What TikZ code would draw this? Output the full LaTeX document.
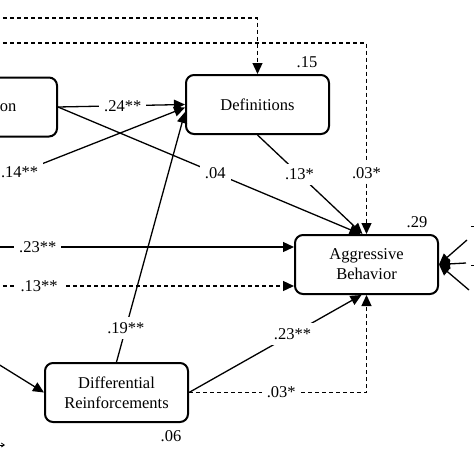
\documentclass[tikz,border=0pt]{standalone}
\usepackage{fontspec}
\setmainfont{Liberation Serif}
\usetikzlibrary{positioning,arrows.meta}

\begin{document}
\begin{tikzpicture}[x=1pt, y=-1pt, font=\fontsize{16.5}{20}\selectfont,
          box/.style={draw, line width=2pt, rounded corners=8pt, minimum width=143pt,
                      minimum height=59pt, align=center},
          arr/.style={line width=1.3pt, -{Triangle[length=11pt,width=10pt]}},
          darr/.style={arr, dash pattern=on 4pt off 3pt},
          coef/.style={fill=white, inner sep=5pt}]
        \useasboundingbox (0,0) rectangle (474,474);
        \clip (0,0) rectangle (474,474);
        % boxes
        \node[box] (imit)  at (-14.5,107)  {};
        \node      (imitx) at (8,108)      {on};
        \node[box] (defs)  at (257.5,104.5) {Definitions};
        \node[box] (aggr)  at (366.5,264.5) {Aggressive\\Behavior};
        \node[box] (reinf) at (116.5,392.5) {Differential\\Reinforcements};
        \node (r15) at (307,62)  {.15};
        \node (r29) at (417,222) {.29};
        \node (r06) at (171,436) {.06};
        % sources outside the frame
        \coordinate (t1)  at (-60,18);
        \coordinate (t2)  at (-60,43);
        \coordinate (s14) at (-60,204);
        \coordinate (s23) at (-60,247);
        \coordinate (s13) at (-60,286);
        \coordinate (sr)  at (-60,328);
        \coordinate (bl)  at (-20,445);
        \coordinate (e1)  at (467,240);
        \coordinate (e2)  at (466,263);
        \coordinate (e3)  at (469,290);
        % paths into Definitions
        \draw[darr] (t1) -| (defs.north);
        \draw[arr] (imit.east) -- node[coef, pos=0.51]{.24**} (defs.west);
        \draw[arr] (s14) -- node[coef, pos=0.325]{.14**} ([yshift=-3pt]defs.west);
        \draw[arr] (reinf.north) -- node[coef, pos=0.136]{.19**} ([yshift=-7.5pt]defs.west);
        % paths into Aggressive Behavior
        \draw[darr] (t2) -| node[coef, pos=0.84]{.03*} (aggr.north);
        \draw[arr] (imit.east) -- node[coef, pos=0.52]{.04} ([xshift=-6pt]aggr.north);
        \draw[arr] (defs.south) -- node[coef, pos=0.4]{.13*} ([xshift=-4pt]aggr.north);
        \draw[arr] (s23) -- node[coef, pos=0.276]{.23**} (s23 -| aggr.west);
        \draw[darr] (s13) -- node[coef, pos=0.28]{.13**} (s13 -| aggr.west);
        \draw[arr] (reinf.east) -- node[coef, pos=0.6]{.23**} ([xshift=-5pt]aggr.south);
        \draw[darr] (reinf.east) -| node[coef, pos=0.26]{.03*} (aggr.south);
        \foreach \e in {e1,e2,e3}
          \draw[arr] (\e) -- (aggr.east);
        % ends of labels cut by the frame
        \coordinate (m1) at (471,226);
        \coordinate (m2) at (471,265);
        \draw[line width=1pt] (m1) -- ++(4,0);
        \draw[line width=1pt] (m2) -- ++(4,0);
        % paths into Differential Reinforcements
        \draw[arr] (sr) -- (reinf.west);
        \draw[line width=0.8pt, -{Straight Barb[length=3pt,width=4pt]}] (bl) -- (5,445);
      \end{tikzpicture}
\end{document}
